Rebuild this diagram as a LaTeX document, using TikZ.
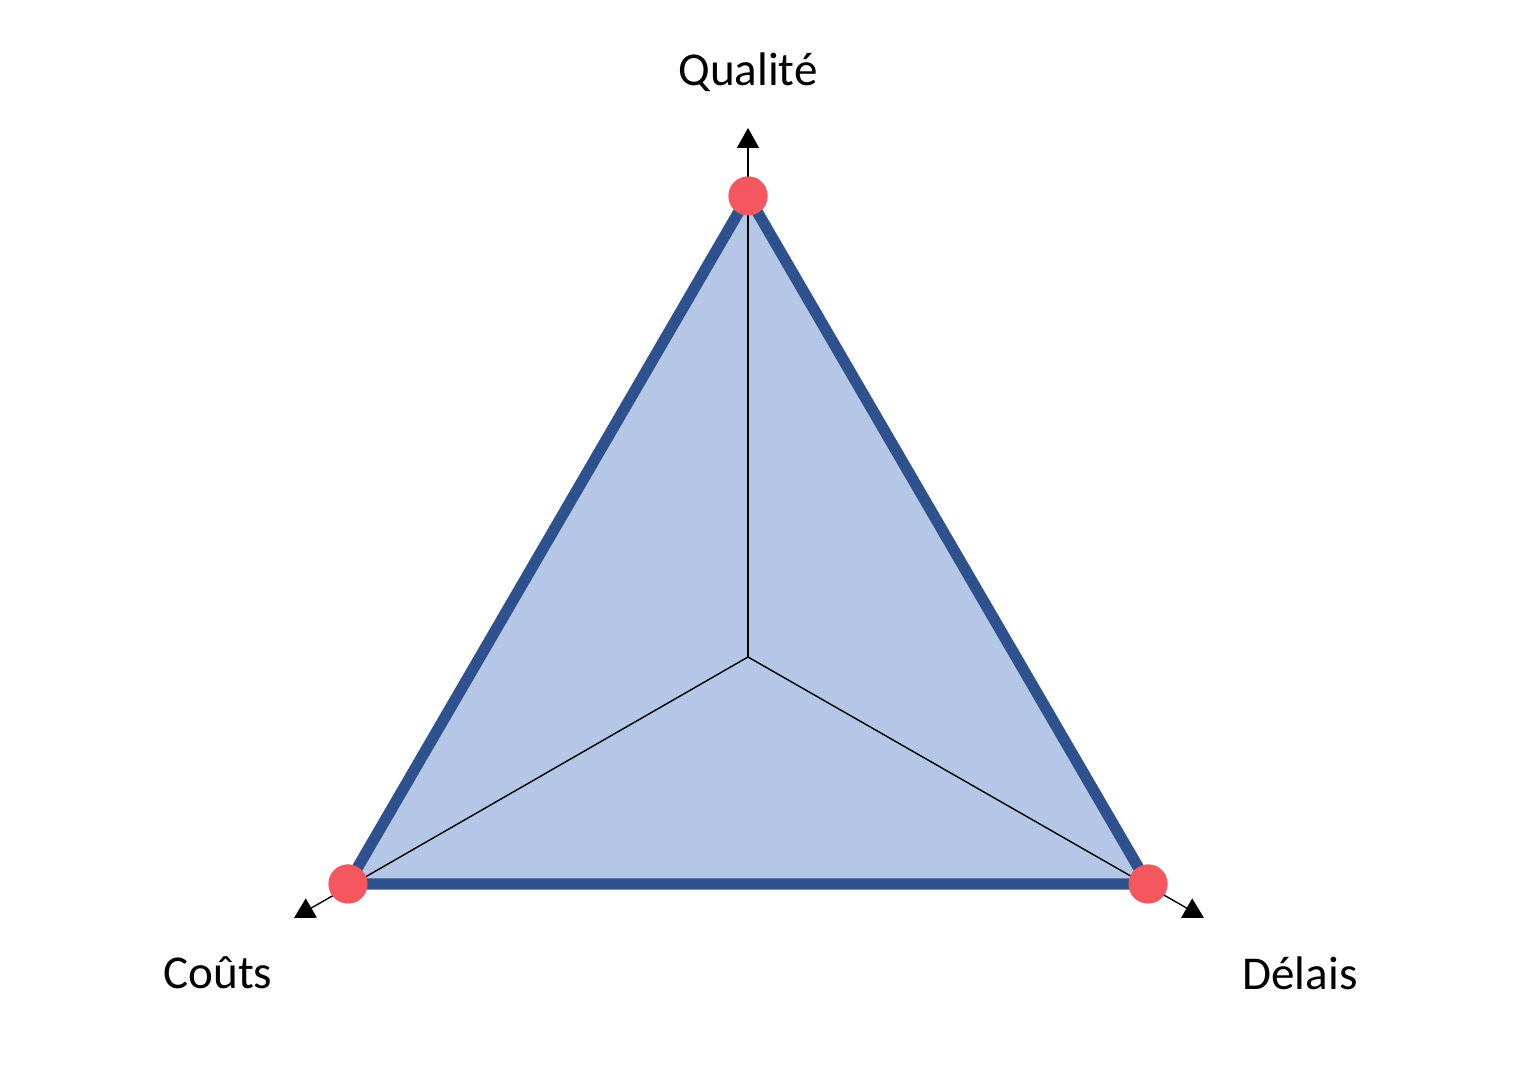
\documentclass[tikz,border=0pt]{standalone}
\usepackage{fontspec}
\setmainfont{Carlito}
\usepackage{tikz}
\usetikzlibrary{arrows.meta,positioning}
\definecolor{edgeblue}{HTML}{2F528F}
\definecolor{fillblue}{HTML}{B4C7E7}
\definecolor{dotred}{HTML}{F4585E}
\tikzset{axis/.style={-{Triangle[length=0.2cm,width=0.22cm]},line width=0.4pt,black},
  corner/.style={circle,fill=dotred,inner sep=0pt,minimum size=0.39cm},
  label/.style={font=\fontsize{13.4}{16}\selectfont,text=black}}
\begin{document}
\begin{tikzpicture}
    \useasboundingbox (0,0) rectangle (15.36,10.80);
    \coordinate (O) at (7.48,4.23);
    \coordinate (q) at (7.48,9.52);
    \coordinate (c) at (2.94,1.62);
    \coordinate (d) at (12.04,1.62);
    \node[corner] (Q) at (7.48,8.84) {};
    \node[corner] (C) at (3.48,1.96) {};
    \node[corner] (D) at (11.48,1.96) {};
    \fill[fillblue] (Q.center) -- (C.center) -- (D.center) -- cycle;
    \draw[axis] (O) -- (q);
    \draw[axis] (O) -- (c);
    \draw[axis] (O) -- (d);
    \draw[edgeblue,line width=3.2pt,line join=round] (Q.center) -- (C.center) -- (D.center) -- cycle;
    \node[corner] at (Q) {};
    \node[corner] at (C) {};
    \node[corner] at (D) {};
    \node[label] (tq) at (7.48,10.08) {Qualité};
    \node[label] (tc) at (2.18,1.07) {Coûts};
    \node[label] (td) at (13.00,1.07) {Délais};
\end{tikzpicture}
\end{document}
